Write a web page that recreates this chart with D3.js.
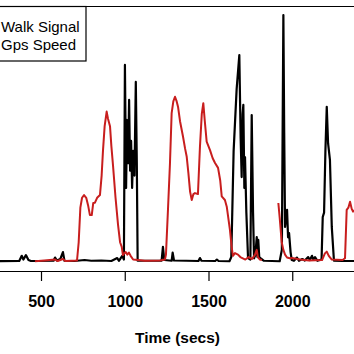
<!DOCTYPE html>
<html>
<head>
<meta charset="utf-8">
<script src="https://cdn.jsdelivr.net/npm/d3@7/dist/d3.min.js"></script>
<style>
  html, body { margin: 0; padding: 0; background: #fff; }
  svg { display: block; }
  text { font-family: "Liberation Sans", Arial, sans-serif; }
</style>
</head>
<body>
<svg id="chart" width="354" height="354"></svg>
<script>
// ---- data ----
const xTicks = [500, 1000, 1500, 2000];
const xLabel = "Time (secs)";
const legendLabels = ["Walk Signal", "Gps Speed"];

const walkTime = [200, 370, 385, 395, 410, 425, 440, 575, 584, 595, 615, 631, 640, 700, 760, 800, 860, 920, 955, 965, 985, 995,
  1001, 1008, 1014, 1020, 1026, 1032, 1038, 1044, 1050, 1058, 1066, 1072, 1077,
  1220, 1228, 1236, 1280, 1286, 1294, 1440, 1449, 1458, 1540, 1550, 1560, 1625, 1636,
  1650, 1668, 1684, 1692, 1698, 1704, 1708, 1714, 1718, 1726, 1736, 1750, 1758, 1766, 1772, 1780, 1788, 1792, 1797, 1803, 1812, 1831,
  1925, 1938, 1947, 1952, 1957, 1963, 1969, 1975, 1981, 1990, 1997, 2010, 2028, 2040, 2060, 2075, 2095, 2105, 2118, 2126, 2136, 2150,
  2175, 2182, 2190, 2198, 2206, 2214, 2225, 2236, 2249, 2300, 2400];
const walkValue = [0.3, 0.4, 2.5, 1.0, 2.8, 0.8, 0.4, 0.5, 1.8, 0.6, 1.2, 4.0, 0.5, 0.4, 0.8, 0.5, 0.6, 0.4, 1.6, 0.5, 2.5, 1.0,
  79.8, 30, 57.5, 40, 65.6, 37, 49, 30, 45, 35, 72.9, 40, 0.5,
  0.5, 6.1, 0.8, 0.5, 3.8, 0.6, 0.4, 1.6, 0.5, 0.4, 1.0, 0.4, 0.3, 2,
  45, 70, 83.8, 50, 34.4, 60, 63.6, 30, 42.5, 20, 1.6, 1, 59.5, 20, 1.5, 3, 10.1, 2, 9, 2, 1.5, 0.5,
  0.3, 5, 100, 52.2, 14.2, 18, 21.1, 10, 11.7, 4, 0.8, 0.5, 1.8, 0.5, 1.2, 0.6, 2, 0.8, 2.5, 1, 2.0, 0.5,
  1, 18.2, 20, 45, 62.8, 48, 41.3, 14.2, 0.5, 0.4, 0.4];

const gpsTime = [464, 520, 584, 600, 631, 645, 715, 725, 735, 745, 757, 770, 781, 792, 803, 812, 822, 835, 852, 862, 870, 880, 892, 900,
  912, 920, 930, 945, 960, 972, 982, 989, 997, 1006, 1015, 1025, 1035, 1050, 1079, 1120, 1210, 1240, 1246, 1258, 1270, 1280, 1290,
  1300, 1310, 1318, 1330, 1348, 1360, 1370, 1380, 1390, 1400, 1410, 1419, 1437, 1449, 1460, 1469, 1478, 1489, 1509, 1525, 1539,
  1557, 1570, 1579, 1598, 1609, 1628, 1638, 1646, 1658, 1676, 1690, 1705, 1720, 1740, 1760, 1778, 1788, 1795, 1807, 1819,
  1868,
  1917, 1925, 1931, 1937, 1947, 1957, 1969, 1985, 2000, 2046, 2100, 2178, 2195, 2206, 2218, 2236, 2300, 2315, 2325, 2335, 2345, 2355, 2363, 2372];
const gpsValue = [0.3, 0.6, 1.0, 0.4, 1.2, 0.4, 0.6, 8, 22, 26, 27.1, 26, 23, 19, 19.0, 23.9, 24, 26, 27.1, 35, 45, 55, 60.9, 58,
  55, 47, 39, 26, 15, 8, 6.1, 2.8, 3.5, 4, 3.0, 3.8, 2.5, 1.0, 0.8, 0.5, 0.6, 1.0, 3, 21.1, 40, 60.3, 65,
  66.9, 65, 62.9, 57, 50.7, 46, 42.6, 36, 28.5, 25.1, 27.5, 27.9, 27.5, 46.7, 60, 64.3, 57, 48.7, 45.3, 42, 40.1,
  38.1, 33, 26.6, 25.1, 22.4, 13.0, 6.2, 2.5, 3.6, 3.0, 2.0, 1.5, 1.0, 2.0, 1.2, 3, 4.9, 2, 1.0, 0.8,
  null,
  23.9, 18, 13, 8, 4.9, 3, 1.8, 1.5, 1.6, 1.0, 0.6, 0.8, 3.5, 4.2, 2.5, 1.0, 0.8, 1.5, 21.1, 22, 24.4, 21.5, 20.4, 21];

// ---- layout ----
const svg = d3.select("#chart");
const W = 354, H = 354;
const plotTop = 6.5, axisY = 271;

const x = d3.scaleLinear().domain([0, 2500]).range([-42.75, -42.75 + 2500 * 0.1675]);
const y = d3.scaleLinear().domain([0, 100]).range([262, 15]);

// plot box top edge
svg.append("line").attr("x1", 0).attr("x2", W).attr("y1", plotTop).attr("y2", plotTop)
  .attr("stroke", "#000").attr("stroke-width", 1.2);

const walk = walkTime.map((t, i) => ({ t, v: walkValue[i] }));
const gps = gpsTime.map((t, i) => ({ t, v: gpsValue[i] }));

const line = d3.line().defined(d => d.v != null).x(d => x(d.t)).y(d => y(d.v));

svg.append("path").datum(walk).attr("d", line)
  .attr("fill", "none").attr("stroke", "#000").attr("stroke-width", 2.2).attr("stroke-linejoin", "round");
svg.append("path").datum(gps).attr("d", line)
  .attr("fill", "none").attr("stroke", "#c81e1e").attr("stroke-width", 2).attr("stroke-linejoin", "round");

// x axis
const ax = svg.append("g").attr("transform", `translate(0,${axisY})`)
  .call(d3.axisBottom(x).tickValues(xTicks).tickSize(10).tickSizeOuter(0).tickPadding(14.5).tickFormat(d3.format("d")));
ax.select(".domain").attr("stroke", "#000").attr("stroke-width", 1.2);
ax.selectAll(".tick line").attr("stroke", "#000").attr("stroke-width", 1.2);
ax.selectAll(".tick text").attr("font-size", 16).attr("font-weight", "bold").attr("fill", "#000")
  .attr("font-family", "'Liberation Sans', Arial, sans-serif");

svg.append("text").attr("x", 177.5).attr("y", 343.3).attr("text-anchor", "middle")
  .attr("font-size", 15.5).attr("font-weight", "bold").text(xLabel);

// legend (left part cut off by the frame)
svg.append("rect").attr("x", -40).attr("y", plotTop).attr("width", 40 + 86).attr("height", 61 - plotTop)
  .attr("fill", "#fff").attr("stroke", "#000").attr("stroke-width", 1.2);
legendLabels.forEach((s, i) => {
  svg.append("text").attr("x", 1).attr("y", 31.5 + i * 18).attr("font-size", 15).attr("fill", "#000").text(s);
});
</script>
</body>
</html>
